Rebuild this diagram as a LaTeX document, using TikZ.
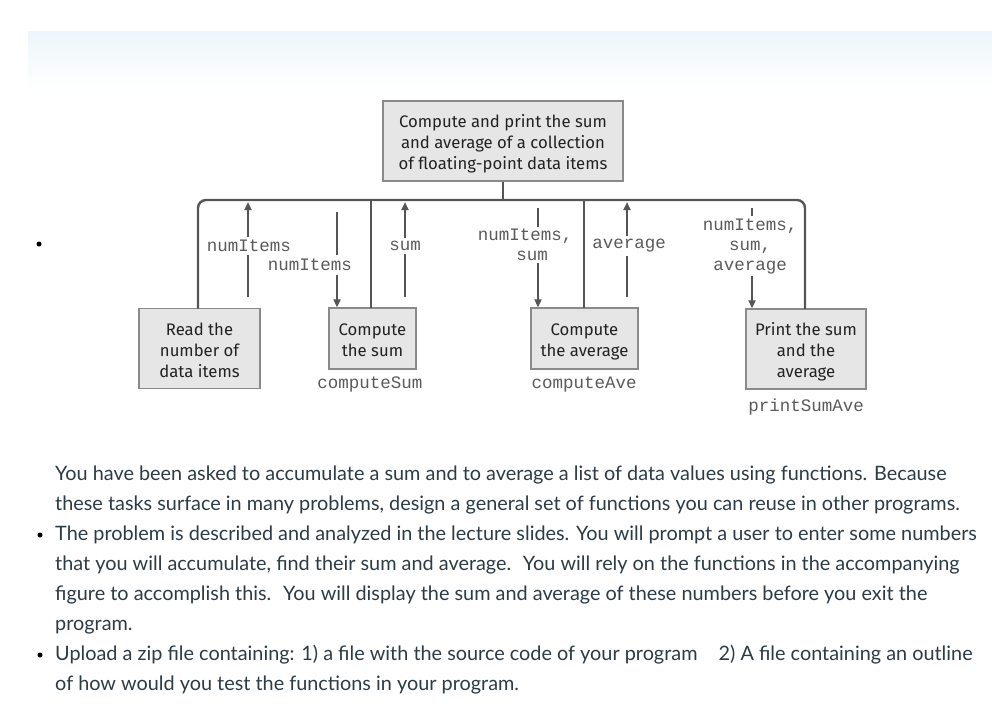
\documentclass[tikz,border=0pt]{standalone}
\usepackage{fontspec}
\setmainfont{Lato}
\newfontfamily\boxfont{Fira Sans}
\newfontfamily\codefont{Liberation Mono}
\usetikzlibrary{arrows.meta}
\definecolor{connc}{HTML}{555555}
\definecolor{boxfill}{HTML}{E6E6E6}
\definecolor{boxdraw}{HTML}{8A8A8A}
\definecolor{boxtext}{HTML}{222222}
\definecolor{codec}{HTML}{5A5A5A}
\definecolor{parac}{HTML}{2D3B45}
\definecolor{bandc}{HTML}{EDF6F9}
\newcommand{\boxlines}[1]{\raisebox{-3.5pt}[\height][\depth]{\begin{tabular}{@{}c@{}}#1\end{tabular}}}
\tikzset{
  box/.style={draw=boxdraw, line width=1.4pt, fill=boxfill, inner sep=0pt, align=center,
    font=\boxfont\fontsize{16.7}{21}\selectfont, text=boxtext},
  lbl/.style={font=\codefont\fontsize{17.5}{20}\selectfont, text=codec, align=center, inner sep=3pt},
  fname/.style={font=\codefont\fontsize{17.5}{20}\selectfont, text=codec, inner sep=0pt},
  wire/.style={draw=connc, line width=2.4pt},
  arr/.style={draw=connc, line width=2.4pt, -{Triangle[width=7pt,length=8pt]}},
  para/.style={font=\fontsize{19.85}{30}\selectfont, text=parac, inner sep=0pt, anchor=base west},
  bul/.style={circle, fill=black, inner sep=0pt, minimum size=5pt},
}
\begin{document}
\begin{tikzpicture}[x=1pt,y=-1pt]
\useasboundingbox (0,0) rectangle (992,723);
\shade[top color=bandc, bottom color=white] (28,31) rectangle (992,92);

% boxes
\node[box, minimum width=240pt, minimum height=80pt] (top) at (503,141)
  {\boxlines{Compute and print the sum\\and average of a collection\\of floating-point data items}};
\node[box, minimum width=121pt, minimum height=80pt] (read) at (199.5,348.5)
  {\boxlines{Read the\\number of\\data items}};
\node[box, minimum width=87pt, minimum height=61pt] (csum) at (372.5,338.5)
  {\boxlines{Compute\\the sum}};
\node[box, minimum width=107pt, minimum height=61pt] (cave) at (584.5,338.5)
  {\boxlines{Compute\\the average}};
\node[box, minimum width=120pt, minimum height=80pt] (print) at (806,349)
  {\boxlines{Print the sum\\and the\\average}};

% bus
\coordinate (stem) at (503,200);
\coordinate (bl) at (198,200);
\coordinate (br) at (805,200);
\coordinate (rl) at (198,308.5);
\coordinate (pr) at (805,309);
\coordinate (sb) at (371,200);
\coordinate (st) at (371,308);
\coordinate (ab) at (584,200);
\coordinate (at) at (584,308);
\draw[wire] (top.south) -- (stem);
\draw[wire, rounded corners=8pt] (rl) -- (bl) -- (br) -- (pr);
\draw[wire] (st) -- (sb);
\draw[wire] (at) -- (ab);

% numItems up (read -> top)
\coordinate (a1b) at (248,297);
\coordinate (a1t) at (248,202);
\node[lbl] (l1) at (249,246) {numItems};
\draw[wire] (a1b) -- (l1.south -| a1b);
\draw[arr] (l1.north -| a1b) -- (a1t);

% numItems down (top -> csum)
\coordinate (a2t) at (337,212);
\node[lbl, inner sep=4pt] (l2) at (310,265) {numItems};
\draw[wire] (a2t) -- (l2.north -| a2t);
\draw[arr] (l2.south -| a2t) -- (csum.north -| a2t);

% sum up (csum -> top)
\coordinate (a3b) at (405,297);
\coordinate (a3t) at (405,202);
\node[lbl] (l3) at (405,246) {sum};
\draw[wire] (a3b) -- (l3.south -| a3b);
\draw[arr] (l3.north -| a3b) -- (a3t);

% numItems, sum down (top -> cave)
\coordinate (a4t) at (538,208);
\node[lbl, inner sep=2pt] (l4) at (525,245) {numItems,\\\hspace*{0.8em}sum};
\draw[wire] (a4t) -- (l4.north -| a4t);
\draw[arr] (l4.south -| a4t) -- (cave.north -| a4t);

% average up (cave -> top)
\coordinate (a5b) at (627,297);
\coordinate (a5t) at (627,202);
\node[lbl] (l5) at (629,246) {average};
\draw[wire] (a5b) -- (l5.south -| a5b);
\draw[arr] (l5.north -| a5b) -- (a5t);

% numItems, sum, average down (top -> print)
\coordinate (a6t) at (752,208);
\node[lbl, inner sep=2pt] (l6) at (750,246) {numItems,\\sum,\\average};
\draw[wire] (a6t) -- (l6.north -| a6t);
\draw[arr] (l6.south -| a6t) -- (print.north -| a6t);

% function names
\node[fname] (n1) at (370,384) {computeSum};
\node[fname] (n2) at (584,384) {computeAve};
\node[fname] (n3) at (806,407) {printSumAve};

% bullets
\node[bul] (b0) at (39,244) {};
\node[bul] (b1) at (40,535) {};
\node[bul] (b2) at (40,655) {};

% paragraph
\node[para] (p1) at (55,480) {You have been asked to accumulate a sum and to average a list of data values using functions. Because};
\node[para] (p2) at (55,510) {these tasks surface in many problems, design a general set of functions you can reuse in other programs.};
\node[para] (p3) at (55,540) {The problem is described and analyzed in the lecture slides. You will prompt a user to enter some numbers};
\node[para] (p4) at (55,570) {that you will accumulate, find their sum and average.\hspace{0.25em} You will rely on the functions in the accompanying};
\node[para] (p5) at (55,600) {figure to accomplish this.\hspace{0.25em} You will display the sum and average of these numbers before you exit the};
\node[para] (p6) at (55,630) {program.};
\node[para] (p7) at (55,660) {Upload a zip file containing: 1) a file with the source code of your program\hspace{16pt} 2) A file containing an outline};
\node[para] (p8) at (55,690) {of how would you test the functions in your program.};
\end{tikzpicture}
\end{document}
